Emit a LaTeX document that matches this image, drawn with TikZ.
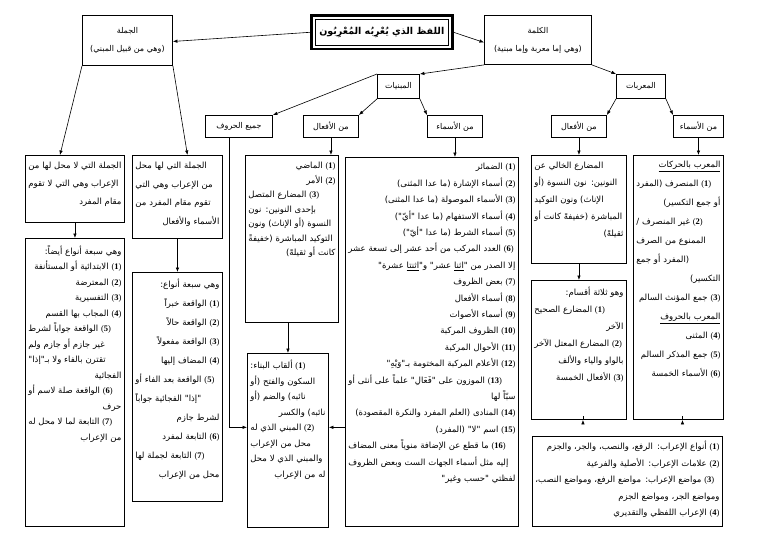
\documentclass[tikz,border=0pt]{standalone}
\usepackage{fontspec}
\usetikzlibrary{calc,arrows.meta}
\TeXXeTstate=1
\newfontfamily\ar[Script=Arabic]{DejaVu Sans}
\newfontfamily\lat{Liberation Serif}
\newcommand\rl[1]{\beginR #1\hskip 0pt plus 1fil\endR\par}
\newcommand\nm[1]{\beginL{\lat(\textbf{#1})}\endL\ }
\newcommand\jst{\parindent=0pt\parfillskip=0pt\leftskip=0pt\rightskip=0pt\tolerance=10000\emergencystretch=1em\hbadness=10000\vbadness=10000\relax}
\newcommand\tb[3]{\vbox to #1pt{\jst\vskip #2pt\relax #3\vfil}}
\newcommand\cl[1]{\beginR #1\endR}
\tikzset{
 bx/.style={draw, line width=0.9pt, inner sep=3pt, anchor=north west, font=\ar\fontsize{8.5}{16}\selectfont},
 hd/.style={draw, line width=0.9pt, inner sep=1pt, anchor=north west, align=center, font=\ar\fontsize{8}{14}\selectfont},
 arr/.style={-{Latex[length=4.5pt,width=3.5pt]}, line width=0.6pt},
 ln/.style={line width=0.6pt}
}
\begin{document}
\begin{tikzpicture}[x=1pt,y=-1pt]
\useasboundingbox (0,0) rectangle (768,543);
% title
\node[hd, line width=0.6pt, minimum width=133pt, minimum height=26pt, font=\ar\bfseries\fontsize{9.5}{10}\selectfont] (title) at (315,19) {\cl{اللفظ الذي يُعْرِبُه المُعْرِبُون}};
\draw[line width=2.6pt] ([shift={(-3.6pt,3.6pt)}]title.north west) rectangle ([shift={(3.6pt,-3.6pt)}]title.south east);
% level 1
\node[hd, minimum width=90pt, minimum height=50pt, font=\ar\fontsize{8}{18}\selectfont] (jumla) at (82,15) {\cl{الجملة}\\\cl{(وهي من قبيل المبني)}};
\node[hd, minimum width=107pt, minimum height=49pt, font=\ar\fontsize{8}{18}\selectfont] (kalima) at (484,15) {\cl{الكلمة}\\\cl{(وهي إما معربة وإما مبنية)}};
\node[hd, minimum width=42pt, minimum height=24pt] (mabni) at (377,74) {\cl{المبنيات}};
\node[hd, minimum width=49pt, minimum height=24pt] (muarab) at (616,74) {\cl{المعربات}};
\node[hd, minimum width=55pt, minimum height=22pt] (asmaM) at (427,115) {\cl{من الأسماء}};
\node[hd, minimum width=55pt, minimum height=22pt] (afalM) at (303,115) {\cl{من الأفعال}};
\node[hd, minimum width=67pt, minimum height=22pt] (huruf) at (205,115) {\cl{جميع الحروف}};
\node[hd, minimum width=55pt, minimum height=22pt] (afalE) at (551,115) {\cl{من الأفعال}};
\node[hd, minimum width=50pt, minimum height=22pt] (asmaE) at (673,115) {\cl{من الأسماء}};
% jumla boxes
\node[bx, text width=93pt, font=\ar\fontsize{8.5}{18}\selectfont] (lamahal) at (25,155) {\tb{61}{4}{\rl{الجملة التي لا محل لها من الإعراب وهي التي لا تقوم مقام المفرد}}};
\node[bx, text width=84pt, font=\ar\fontsize{8.5}{18.5}\selectfont] (lahamahal) at (132,155) {\tb{77}{4}{\rl{الجملة التي لها محل من الإعراب وهي التي تقوم مقام المفرد من الأسماء والأفعال}}};
\node[bx, text width=93pt, font=\ar\fontsize{8.5}{15.5}\selectfont] (sabaaL) at (25,238) {\tb{282}{4}{
\rl{وهي سبعة أنواع أيضاً:}
\rl{\nm{1}الابتدائية أو المستأنفة}
\rl{\nm{2}المعترضة}
\rl{\nm{3}التفسيرية}
\rl{\nm{4}المجاب بها القسم}
\rl{\nm{5}الواقعة جواباً لشرط غير جازم أو جازم ولم تقترن بالفاء ولا بـ"إذا" الفجائية}
\rl{\nm{6}الواقعة صلة لاسم أو حرف}
\rl{\nm{7}التابعة لما لا محل له من الإعراب}}};
\node[bx, text width=84pt, font=\ar\fontsize{8.5}{19}\selectfont] (sabaaR) at (132,272) {\tb{223}{4}{
\rl{وهي سبعة أنواع:}
\rl{\nm{1}الواقعة خبراً}
\rl{\nm{2}الواقعة حالاً}
\rl{\nm{3}الواقعة مفعولاً}
\rl{\nm{4}المضاف إليها}
\rl{\nm{5}الواقعة بعد الفاء أو "إذا" الفجائية جواباً لشرط جازم}
\rl{\nm{6}التابعة لمفرد}
\rl{\nm{7}التابعة لجملة لها محل من الإعراب}}};
% mabniyat boxes
\node[bx, text width=87pt, font=\ar\fontsize{8.5}{14.5}\selectfont] (verbsM) at (245,155) {\tb{161}{4}{
\rl{\nm{1}الماضي}
\rl{\nm{2}الأمر}
\rl{\nm{3}المضارع المتصل بإحدى النونين: نون النسوة (أو الإناث) ونون التوكيد المباشرة (خفيفةً كانت أو ثقيلةً)}}};
\node[bx, text width=75pt, font=\ar\fontsize{8.5}{15.5}\selectfont] (alqab) at (247,353) {\tb{168}{4}{
\rl{\nm{1}ألقاب البناء: السكون والفتح (أو نائبه) والضم (أو نائبه) والكسر}
\rl{\nm{2}المبني الذي له محل من الإعراب والمبني الذي لا محل له من الإعراب}}};
\node[bx, text width=167pt, font=\ar\fontsize{8.5}{16.4}\selectfont] (nounsM) at (345,157) {\tb{363}{3}{
\rl{\nm{1}الضمائر}
\rl{\nm{2}أسماء الإشارة (ما عدا المثنى)}
\rl{\nm{3}الأسماء الموصولة (ما عدا المثنى)}
\rl{\nm{4}أسماء الاستفهام (ما عدا "أيّ")}
\rl{\nm{5}أسماء الشرط (ما عدا "أيّ")}
\rl{\nm{6}العدد المركب من أحد عشر إلى تسعة عشر إلا الصدر من "\underline{اثنا} عشر" و"\underline{اثنتا} عشرة"}
\rl{\nm{7}بعض الظروف}
\rl{\nm{8}أسماء الأفعال}
\rl{\nm{9}أسماء الأصوات}
\rl{\nm{10}الظروف المركبة}
\rl{\nm{11}الأحوال المركبة}
\rl{\nm{12}الأعلام المركبة المختومة بـ"وَيْهِ"}
\rl{\nm{13}الموزون على "فَعَالِ" علماً على أنثى أو سبّاً لها}
\rl{\nm{14}المنادى (العلم المفرد والنكرة المقصودة)}
\rl{\nm{15}اسم "لا" (المفرد)}
\rl{\nm{16}ما قطع عن الإضافة منوياً معنى المضاف إليه مثل أسماء الجهات الست وبعض الظروف لفظتي "حسب وغير"}}};
% muarabat boxes
\node[bx, text width=89pt, font=\ar\fontsize{8.5}{17}\selectfont] (verbsE) at (531,155) {\tb{102}{4}{
\rl{المضارع الخالي عن النونين: نون النسوة (أو الإناث) ونون التوكيد المباشرة (خفيفةً كانت أو ثقيلةً)}}};
\node[bx, text width=89pt, font=\ar\fontsize{8.5}{17}\selectfont] (divE) at (531,280) {\tb{133}{4}{
\rl{وهو ثلاثة أقسام:}
\rl{\nm{1}المضارع الصحيح الآخر}
\rl{\nm{2}المضارع المعتل الآخر بالواو والياء والألف}
\rl{\nm{3}الأفعال الخمسة}}};
\node[bx, text width=84pt, font=\ar\fontsize{8.5}{19}\selectfont] (nounsE) at (633,155) {\tb{258}{3}{
\rl{\underline{\beginR المعرب بالحركات\endR}}
\rl{\nm{1}المنصرف (المفرد أو جمع التكسير)}
\rl{\nm{2}غير المنصرف / الممنوع من الصرف (المفرد أو جمع التكسير)}
\rl{\nm{3}جمع المؤنث السالم}
\rl{\underline{\beginR المعرب بالحروف\endR}}
\rl{\nm{4}المثنى}
\rl{\nm{5}جمع المذكر السالم}
\rl{\nm{6}الأسماء الخمسة}}};
\node[bx, text width=184pt, font=\ar\fontsize{8.5}{16.5}\selectfont] (bottom) at (532,436) {\tb{84}{2}{
\rl{\nm{1}أنواع الإعراب: الرفع، والنصب، والجر، والجزم}
\rl{\nm{2}علامات الإعراب: الأصلية والفرعية}
\rl{\nm{3}مواضع الإعراب: مواضع الرفع، ومواضع النصب، ومواضع الجر، ومواضع الجزم}
\rl{\nm{4}الإعراب اللفظي والتقديري}}};
% connectors
\draw[arr] ([xshift=-5pt]title.west) -- ($(jumla.north east)!0.52!(jumla.south east)$);
\draw[arr] ([xshift=5pt]title.east) -- ($(kalima.north west)!0.55!(kalima.south west)$);
\draw[arr] (kalima.south west) -- (mabni.north east);
\draw[arr] (kalima.south east) -- (muarab.north west);
\draw[arr] (mabni.south east) -- (asmaM.north west);
\draw[arr] (mabni.south west) -- (afalM.north east);
\draw[arr] (mabni.north west) -- (huruf.north east);
\draw[arr] (muarab.south west) -- (afalE.north east);
\draw[arr] (muarab.south east) -- (asmaE.north west);
\draw[arr] (jumla.south west) -- ($(lamahal.north west)!0.35!(lamahal.north east)$);
\draw[arr] (jumla.south east) -- ($(lahamahal.north west)!0.61!(lahamahal.north east)$);
\draw[arr] (lamahal.south) -- (lamahal.south |- sabaaL.north);
\draw[arr] (lahamahal.south) -- (lahamahal.south |- sabaaR.north);
\draw[arr] (asmaM.south) -- (asmaM.south |- nounsM.north);
\draw[arr] (afalM.south) -- (afalM.south |- verbsM.north);
\draw[arr] (alqab.north |- verbsM.south) -- (alqab.north);
\coordinate (aw) at ($(alqab.north west)!0.425!(alqab.south west)$);
\coordinate (ae) at ($(alqab.north east)!0.425!(alqab.south east)$);
\draw[arr] ($(huruf.south west)!0.36!(huruf.south east)$) |- (aw);
\draw[arr] (nounsM.west |- ae) -- (ae);
\draw[arr] (asmaE.south) -- (asmaE.south |- nounsE.north);
\draw[arr] (afalE.south) -- (afalE.south |- verbsE.north);
\draw[arr] (verbsE.south) -- (verbsE.south |- divE.north);
\draw[arr] ($(divE.south)+(4pt,0)$) -- ($(divE.south)+(4pt,0)$ |- bottom.north);
\draw[arr] ($(nounsE.south)+(4pt,0)$) -- ($(nounsE.south)+(4pt,0)$ |- bottom.north);
\end{tikzpicture}
\end{document}
